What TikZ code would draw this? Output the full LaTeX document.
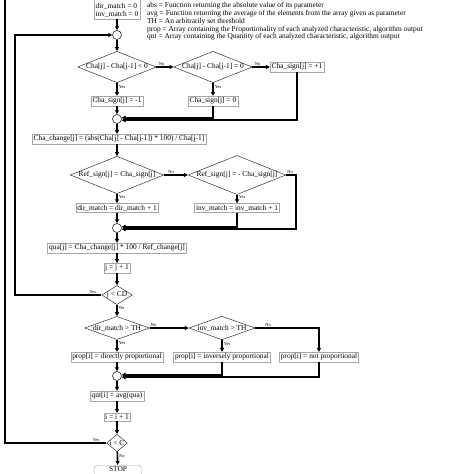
\documentclass[tikz,border=0pt]{standalone}
\usepackage{fontspec}
\setmainfont{Liberation Serif}
\usetikzlibrary{shapes.geometric,arrows.meta}
\begin{document}
\begin{tikzpicture}
      [x=1pt, y=-1pt,
       flow/.style={line width=1.6pt, -{Triangle[length=4pt,width=4pt]}},
       box/.style={draw=gray!70, line width=0.4pt, fill=white, inner sep=1.5pt, font=\fontsize{7.4}{7.7}\selectfont},
       decision/.style={diamond, draw=black!80, line width=0.5pt, inner sep=0pt, aspect=2.5, fill=white, font=\fontsize{7.4}{7.7}\selectfont},
       merge/.style={circle, draw, line width=0.5pt, minimum size=9pt, inner sep=0pt, fill=white},
       lbl/.style={font=\fontsize{4.5}{5}\selectfont, inner sep=1pt}]
      \useasboundingbox (0,0) rectangle (474,474);

      \node[box, align=left, anchor=south] (init) at (117,19) {\strut\\dir\_match = 0\\inv\_match = 0};
      \node[anchor=north west, align=left, inner sep=0pt, font=\fontsize{7.4}{7.7}\selectfont] (legend) at (147,2.5)
         {abs = Function returning the absolute value of its parameter\\
          avg = Function returning the average of the elements from the array given as parameter\\
          TH = An arbitrarily set threshold\\
          prop = Array containing the Proportionality of each analyzed characteristic, algorithm output\\
          qnt = Array containing the Quantity of each analyzed characteristic, algorithm output};

      \node[merge] (c1) at (117,35) {};
      \node[decision] (d1) at (117,67) {Cha[j] - Cha[j-1] < 0};
      \node[decision] (d2) at (213,67) {Cha[j] - Cha[j-1] = 0};
      \node[box] (s3) at (297,67) {Cha\_sign[j] = +1};
      \node[box] (s1) at (117,101) {Cha\_sign[j] = -1};
      \node[box] (s2) at (213,101) {Cha\_sign[j] = 0};
      \node[merge] (c2) at (117,119) {};
      \node[box] (chg) at (119,139) {Cha\_change[j] = (abs(Cha[j] - Cha[j-1]) * 100) / Cha[j-1]};

      \node[decision] (d3) at (117,175) {Ref\_sign[j] = Cha\_sign[j]};
      \node[decision] (d4) at (237,175) {Ref\_sign[j] = - Cha\_sign[j]};
      \node[box] (m1) at (117,208) {dir\_match = dir\_match + 1};
      \node[box] (m2) at (237,208) {inv\_match = inv\_match + 1};
      \node[merge] (c3) at (117,228) {};
      \node[box] (qua) at (117,248) {qua[j] = Cha\_change[j] * 100 / Ref\_change[j]};
      \node[box] (jinc) at (117,268) {j = j + 1};
      \node[decision, aspect=1.6] (d5) at (117,295) {j < CD};

      \node[decision, aspect=2.8] (d6) at (117,328) {dir\_match > TH};
      \node[decision, aspect=2.8] (d7) at (222,328) {inv\_match > TH};
      \node[box] (p1) at (117,357) {prop[i] = directly proportional};
      \node[box] (p2) at (222,357) {prop[i] = inversely proportional};
      \node[box] (p3) at (319,357) {prop[i] = not proportional};
      \node[merge] (c4) at (117,376) {};
      \node[box] (qnt) at (117,396) {qnt[i] = avg(qua)};
      \node[box] (iinc) at (117,417) {i = i + 1};
      \node[decision, aspect=1.2] (d8) at (117,443) {i < C};
      \node[box, rounded corners=3pt, minimum width=47pt, text depth=10pt, anchor=north] (stop) at (118,465) {STOP};

      \coordinate (l1) at (5,-5);
      \coordinate (l2) at (15,35);

      \draw[flow] (init) -- (c1);
      \draw[flow] (d5.west) -| node[lbl, above, pos=0.05] {Yes} (l2) -- (c1);
      \draw[flow] (c1) -- (d1);
      \draw[flow] (d1) -- node[lbl, above, pos=0.3] {No} (d2);
      \draw[flow] (d2) -- node[lbl, above, pos=0.3] {No} (s3);
      \draw[flow] (d1) -- node[lbl, right, pos=0.3] {Yes} (s1);
      \draw[flow] (d2) -- node[lbl, right, pos=0.3] {Yes} (s2);
      \draw[flow] (s1) -- (c2);
      \draw[flow] (s2) |- (c2.15);
      \draw[flow] (s3) |- (c2.-15);
      \draw[flow] (c2) -- (c2 |- chg.north);
      \draw[flow] (chg.south -| d3) -- (d3);

      \draw[flow] (d3) -- node[lbl, above, pos=0.3] {No} (d4);
      \draw[flow] (d3) -- node[lbl, right, pos=0.3] {Yes} (m1);
      \draw[flow] (d4) -- node[lbl, right, pos=0.3] {Yes} (m2);
      \draw[flow] (m1) -- (c3);
      \draw[flow] (m2) |- (c3.15);
      \draw[flow] (d4.east) -- node[lbl, above, pos=0.4] {No} ++(10,0) |- (c3.-15);
      \draw[flow] (c3) -- (qua);
      \draw[flow] (qua) -- (jinc);
      \draw[flow] (jinc) -- (d5);
      \draw[flow] (d5) -- node[lbl, right, pos=0.3] {No} (d6);

      \draw[flow] (d6) -- node[lbl, above, pos=0.1] {No} (d7);
      \draw[flow] (d6) -- node[lbl, right, pos=0.3] {Yes} (p1);
      \draw[flow] (d7) -- node[lbl, right, pos=0.3] {Yes} (p2);
      \draw[flow] (d7) -| node[lbl, above, pos=0.1] {No} (p3);
      \draw[flow] (p1) -- (c4);
      \draw[flow] (p2) |- (c4.15);
      \draw[flow] (p3) |- (c4.-15);
      \draw[flow] (c4) -- (qnt);
      \draw[flow] (qnt) -- (iinc);
      \draw[flow] (iinc) -- (d8);
      \draw[flow] (d8) -- node[lbl, right, pos=0.3] {No} (stop);
      \draw[flow, -] (d8.west) -| node[lbl, above, pos=0.05] {Yes} (l1);
\end{tikzpicture}
\end{document}
